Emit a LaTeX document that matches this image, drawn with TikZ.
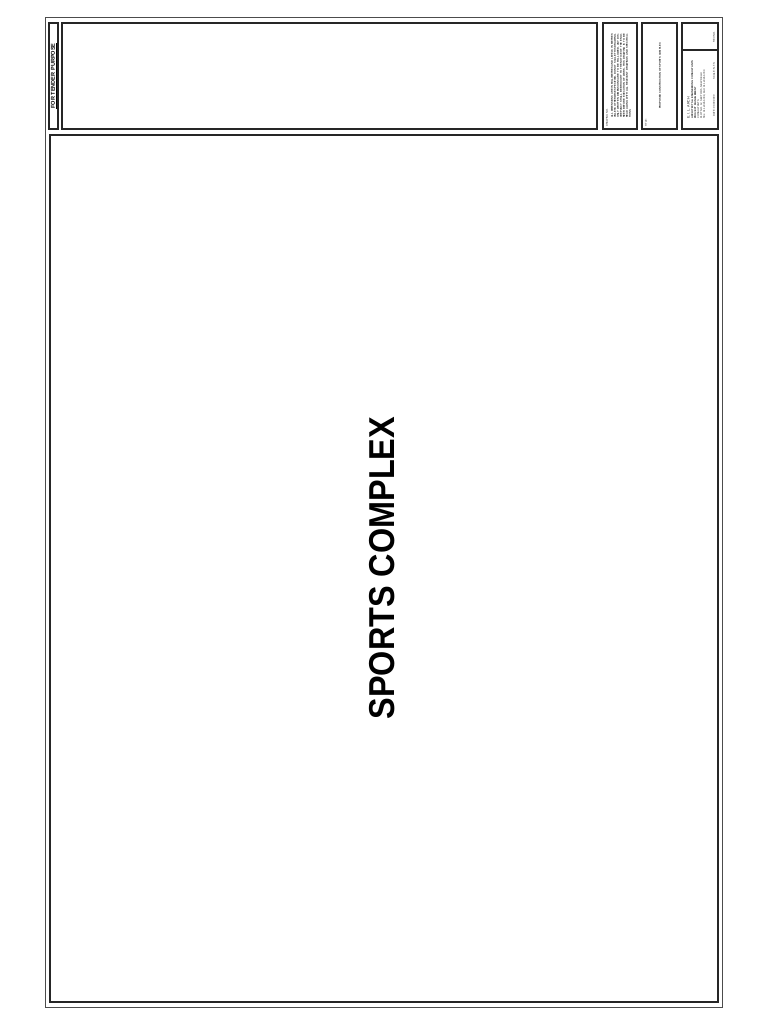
\documentclass[tikz,border=0pt]{standalone}
\usepackage{fontspec}
\setmainfont{Liberation Sans}
\begin{document}
\begin{tikzpicture}[x=1pt,y=-1pt,
  frame/.style={draw=black!70,line width=0.9pt},
  boxline/.style={draw=black!85,line width=1.1pt},
  tinytext/.style={rotate=90,inner sep=0pt,font=\fontsize{2.6}{3.0}\selectfont,text=black!85},
  tinybold/.style={tinytext,font=\fontsize{2.6}{3.0}\selectfont\bfseries}]
\useasboundingbox (0,0) rectangle (768,1024);
\fill[white] (0,0) rectangle (768,1024);
% frames
\draw[frame] (45,17) rectangle (722,1007);
\draw[boxline] (50,135) rectangle (718,1002);
% title strip boxes
\draw[boxline] (49,23) rectangle (58,129);
\draw[boxline] (62,23) rectangle (597,129);
\draw[boxline] (603,23) rectangle (637,129);
\draw[boxline] (642,23) rectangle (677,129);
\draw[boxline] (682,23) rectangle (718,129);
\draw[boxline] (682,50) -- (718,50);
% main title
\node[rotate=90,xscale=0.9,inner sep=0pt,font=\fontsize{36}{40}\selectfont\bfseries] (title) at (382,568) {SPORTS COMPLEX};
% tender stamp
\node[rotate=90,inner sep=0pt,font=\fontsize{5.6}{7}\selectfont\bfseries] (tender) at (54,76) {\underline{FOR TENDER PURPOSE}};
% notes column
\node[tinybold,text width=84pt,align=justify] (notes) at (621,76)
  {ALL DIMENSIONS ARE IN MILLIMETRES AND LEVELS IN METRES UNLESS OTHERWISE SPECIFIED. DO NOT SCALE THIS DRAWING. ONLY WRITTEN DIMENSIONS ARE TO BE FOLLOWED. ANY DISCREPANCY SHALL BE BROUGHT TO THE NOTICE OF THE ENGINEER BEFORE EXECUTION OF WORK. THIS DRAWING IS TO BE READ ALONG WITH ALL RELEVANT DRAWINGS AND SPECIFICATIONS.};
\node[tinytext,anchor=south west] (drgno) at (608,127) {DRAWING NO.};
% title column
\node[tinybold] (work) at (660,76) {PROPOSED CONSTRUCTION OF SPORTS COMPLEX};
\node[tinytext,anchor=south west] (titlelbl) at (647,127) {TITLE:};
% client / consultant column
\node[tinytext] (rev) at (714,37) {REV. NO.};
\node[tinytext,align=left,anchor=north west] (consult) at (687,119)
  {{\fontsize{3.6}{4}\selectfont E. I. L. ARCH}\\[0.5pt]
   \textbf{ARCHITECTS \& ENGINEERING CONSULTANTS}\\
   \textbf{PROJECT MANAGEMENT}\\
   CONSULTANTS\\
   PLOT NO. 12, SECTOR 5, NEW DELHI\\
   TEL: 011 2345 6789, FAX: 011 2345 6790};
\node[tinytext] (scale) at (714,71) {SCALE: N.T.S.};
\node[tinytext] (date) at (714,106) {DATE: 00.00.0000};
\end{tikzpicture}
\end{document}
